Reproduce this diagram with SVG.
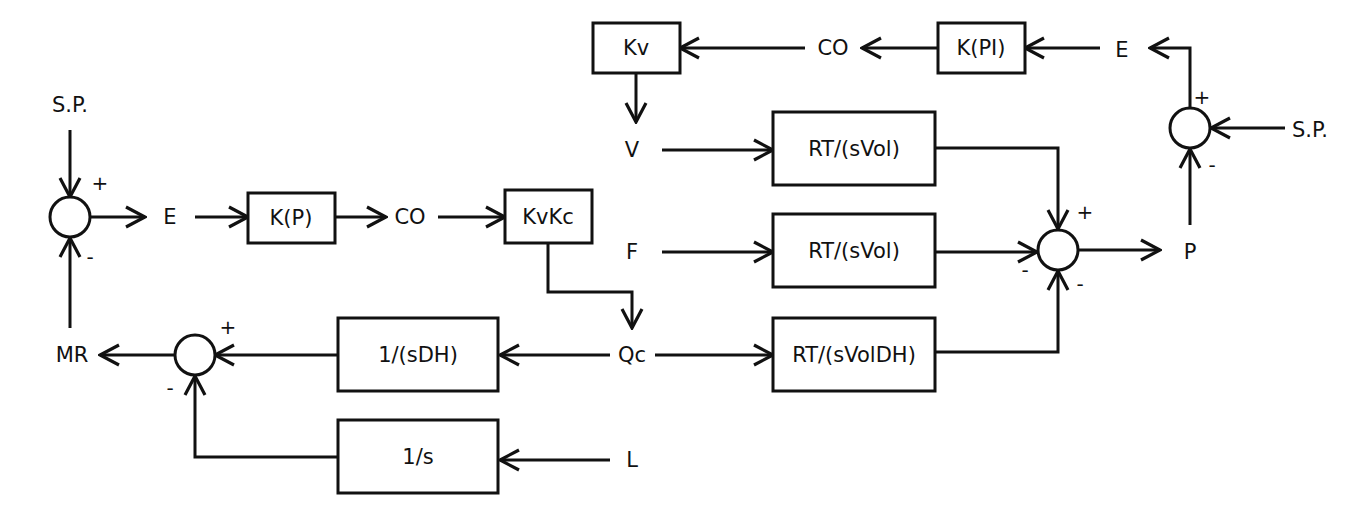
<svg xmlns="http://www.w3.org/2000/svg" width="1362" height="532" viewBox="0 0 1362 532">
<style>
text{font-family:"DejaVu Sans",sans-serif;font-size:21px;fill:#111;text-anchor:middle;dominant-baseline:central}
.s{font-size:20px}
rect,circle{fill:#fff;stroke:#111;stroke-width:3}
rect.bg{stroke:none}
.c path{fill:none;stroke:#111;stroke-width:3;marker-end:url(#a)}
</style>
<defs><marker id="a" viewBox="0 0 24 24" refX="22" refY="12" markerWidth="24" markerHeight="24" markerUnits="userSpaceOnUse" orient="auto"><path d="M3 2 L22 12 L3 22" fill="none" stroke="#111" stroke-width="3.2"/></marker></defs>
<rect class="bg" width="1362" height="532"/>
<g class="c">
<path d="M70 130V197"/><path d="M90 217H145"/><path d="M195 217H248"/><path d="M335 217H386"/><path d="M438 217H505"/>
<path d="M548 243V292H632V328"/><path d="M610 355H500"/><path d="M338 355H215"/><path d="M175 355H100"/>
<path d="M70 328V238"/><path d="M338 457H195V376"/><path d="M610 460H500"/><path d="M655 355H773"/>
<path d="M935 352H1058V271"/><path d="M662 150H773"/><path d="M935 148H1058V229"/><path d="M662 252H773"/><path d="M935 252H1037"/>
<path d="M1078 250H1160"/><path d="M1190 225V149"/><path d="M1285 128H1211"/><path d="M1190 108V48H1150"/>
<path d="M1100 48H1025"/><path d="M938 48H862"/><path d="M805 48H680"/><path d="M636 73V122"/>
</g>
<g id="sum1"><circle cx="70" cy="217" r="20"/><text x="100" y="183" class="s">+</text><text x="90" y="257" class="s">-</text></g>
<g id="sum2"><circle cx="195" cy="355" r="20"/><text x="228" y="327" class="s">+</text><text x="170" y="388" class="s">-</text></g>
<g id="sum3"><circle cx="1058" cy="250" r="20"/><text x="1085" y="212" class="s">+</text><text x="1025" y="270" class="s">-</text><text x="1080" y="284" class="s">-</text></g>
<g id="sum4"><circle cx="1190" cy="128" r="20"/><text x="1202" y="97" class="s">+</text><text x="1212" y="165" class="s">-</text></g>
<g id="kp"><rect x="248" y="193" width="87" height="50"/><text x="291" y="218">K(P)</text></g>
<g id="kvkc"><rect x="505" y="190" width="87" height="53"/><text x="548" y="217">KvKc</text></g>
<g id="sdh"><rect x="338" y="318" width="160" height="73"/><text x="418" y="355">1/(sDH)</text></g>
<g id="s"><rect x="338" y="420" width="160" height="73"/><text x="418" y="457">1/s</text></g>
<g id="rt1"><rect x="773" y="112" width="162" height="73"/><text x="854" y="149">RT/(sVol)</text></g>
<g id="rt2"><rect x="773" y="214" width="162" height="73"/><text x="854" y="251">RT/(sVol)</text></g>
<g id="rt3"><rect x="773" y="318" width="162" height="73"/><text x="854" y="355">RT/(sVolDH)</text></g>
<g id="kpi"><rect x="938" y="23" width="87" height="50"/><text x="981" y="48">K(PI)</text></g>
<g id="kv"><rect x="593" y="23" width="87" height="50"/><text x="636" y="48">Kv</text></g>
<g id="labels">
<text x="70" y="105">S.P.</text><text x="170" y="217">E</text><text x="410" y="217">CO</text><text x="632" y="355">Qc</text>
<text x="72" y="355">MR</text><text x="632" y="460">L</text><text x="632" y="150">V</text><text x="632" y="252">F</text>
<text x="1190" y="252">P</text><text x="1310" y="130">S.P.</text><text x="1122" y="50">E</text><text x="833" y="48">CO</text>
</g>
</svg>
